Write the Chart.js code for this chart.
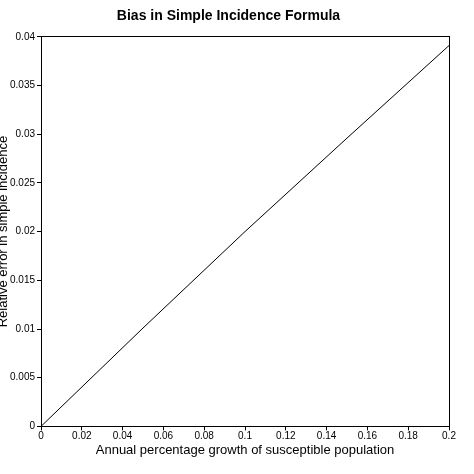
<!DOCTYPE html>
<html>
<head>
<script src="https://cdn.jsdelivr.net/npm/chart.js@4"></script>
<style>body{margin:0;background:#fff}</style>
</head>
<body>
<canvas id="c" width="474" height="474"></canvas>
<script>
// values
const growth = [0, 0.05, 0.1, 0.15, 0.2];
const relError = [0, 0.0101, 0.0200, 0.0296, 0.0391];
const xTicks = [0, 0.02, 0.04, 0.06, 0.08, 0.1, 0.12, 0.14, 0.16, 0.18, 0.2];
const yTicks = [0, 0.005, 0.01, 0.015, 0.02, 0.025, 0.03, 0.035, 0.04];

const font = { family: 'Liberation Sans, Arial', size: 10 };

const ctx = document.getElementById('c').getContext('2d');
new Chart(ctx, {
    type: 'line',
    data: {
        datasets: [{
            data: growth.map((g, i) => ({ x: g, y: relError[i] })),
            borderColor: '#000',
            borderWidth: 1,
            pointRadius: 0,
            tension: 0
        }]
    },
    options: {
        responsive: false,
        animation: false,
        layout: { padding: { top: 0, right: 17, left: 0, bottom: 16 } },
        plugins: {
            legend: { display: false },
            tooltip: { enabled: false },
            title: {
                display: true,
                text: 'Bias in Simple Incidence Formula',
                color: '#000',
                font: { family: 'Liberation Sans, Arial', size: 14, weight: 'bold' },
                padding: { top: 8, bottom: 4 }
            }
        },
        scales: {
            x: {
                type: 'linear', min: 0, max: 0.2,
                afterBuildTicks: a => { a.ticks = xTicks.map(v => ({ value: v })); },
                ticks: { color: '#000', font, maxRotation: 0, padding: 0, callback: v => String(+v.toFixed(2)) },
                grid: { drawOnChartArea: false, color: '#000', tickLength: 4 },
                border: { color: '#000' },
                title: { display: true, text: 'Annual percentage growth of susceptible population', color: '#000', font: { family: 'Liberation Sans, Arial', size: 13 }, padding: { top: 0, bottom: 0 } }
            },
            y: {
                type: 'linear', min: 0, max: 0.04,
                afterBuildTicks: a => { a.ticks = yTicks.map(v => ({ value: v })); },
                afterFit: a => { a.width = 41; },
                ticks: { color: '#000', font, padding: 2, callback: v => String(+v.toFixed(3)) },
                grid: { drawOnChartArea: false, color: '#000', tickLength: 4 },
                border: { color: '#000' },
                title: { display: true, text: 'Relative error in simple incidence', color: '#000', font: { family: 'Liberation Sans, Arial', size: 13 }, padding: { top: -4, bottom: 0 } }
            },
            x2: { position: 'top', type: 'linear', min: 0, max: 0.2, ticks: { display: false }, grid: { display: false }, border: { color: '#000' } },
            y2: { position: 'right', type: 'linear', min: 0, max: 0.04, ticks: { display: false }, grid: { display: false }, border: { color: '#000' } }
        }
    }
});
</script>
</body>
</html>
